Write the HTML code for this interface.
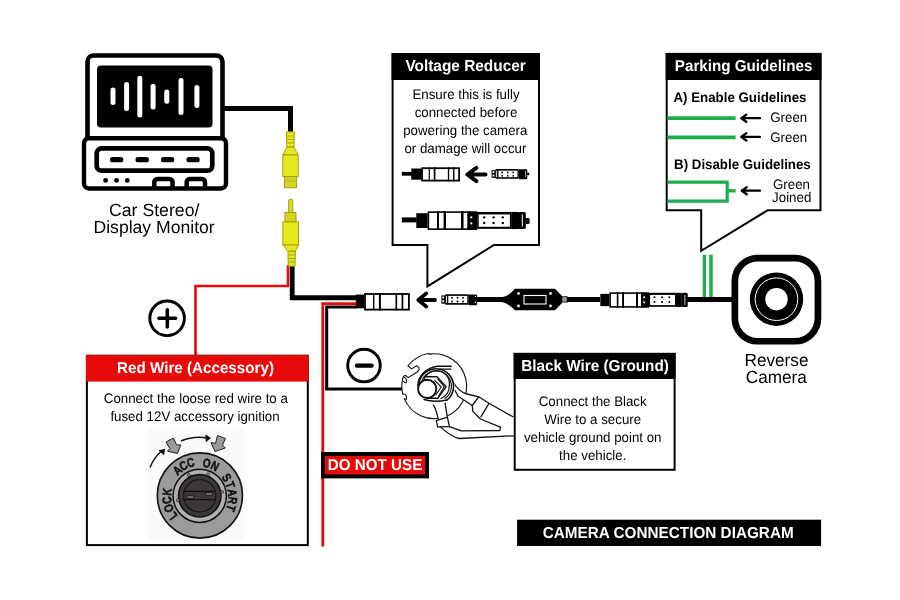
<!DOCTYPE html>
<html><head><meta charset="utf-8">
<style>
html,body{margin:0;padding:0;background:#fff;width:900px;height:600px;overflow:hidden}
svg{display:block;will-change:transform}
text{font-family:"Liberation Sans",sans-serif;text-rendering:geometricPrecision}
.b{font-weight:bold}
</style></head><body>
<svg width="900" height="600" viewBox="0 0 900 600">
<rect width="900" height="600" fill="#fff"/>
<!-- ===== wires ===== -->
<g fill="none" stroke-linejoin="miter">
  <path d="M224,108.5 H290.5 V133" stroke="#000" stroke-width="5"/>
  <path d="M195.5,356 V286 H288 V265" stroke="#e80a0a" stroke-width="2.6"/>
  <path d="M292.2,265 V297.75 H357" stroke="#000" stroke-width="4.8"/>
  <path d="M322.8,546.4 V303.7 H357" stroke="#e80a0a" stroke-width="2.8"/>
  <path d="M326.7,389 V306.9 H357" stroke="#000" stroke-width="3"/>
  <path d="M325.2,389.1 H402" stroke="#000" stroke-width="3"/>
  <path d="M476,299.5 H600" stroke="#000" stroke-width="5"/>
  <path d="M687,299.5 H733" stroke="#000" stroke-width="5"/>
  <path d="M704.35,254.7 V297" stroke="#1caf4b" stroke-width="3.3"/>
  <path d="M711,254.7 V297" stroke="#1caf4b" stroke-width="3.5"/>
</g>
<!-- ===== Car stereo icon ===== -->
<g id="stereo" fill="none" stroke="#000">
  <path d="M87.5,138 V61.5 a6,6 0 0 1 6,-6 H216.5 a6,6 0 0 1 6,6 V138" stroke-width="4.6"/>
  <rect x="97" y="65.5" width="115.5" height="62" rx="4" fill="#000" stroke="none"/>
  <g stroke="#fff" stroke-width="5" stroke-linecap="round">
    <line x1="113" y1="90" x2="113" y2="102.5"/>
    <line x1="126.6" y1="84.5" x2="126.6" y2="108.5"/>
    <line x1="139.8" y1="78.3" x2="139.8" y2="115"/>
    <line x1="153.1" y1="86.3" x2="153.1" y2="107"/>
    <line x1="166.75" y1="92" x2="166.75" y2="101.2"/>
    <line x1="181" y1="80.5" x2="181" y2="112.5"/>
    <line x1="196.9" y1="87.5" x2="196.9" y2="105.5"/>
  </g>
  <rect x="84" y="138.2" width="142" height="50.3" rx="5" stroke-width="4.4"/>
  <rect x="96.7" y="148.4" width="115.6" height="22.3" rx="5" stroke-width="4.7"/>
  <g stroke-width="5.2" stroke-linecap="round">
    <line x1="112.6" y1="159.7" x2="120.7" y2="159.7"/>
    <line x1="138.1" y1="159.7" x2="146.4" y2="159.7"/>
    <line x1="163.6" y1="159.7" x2="171.6" y2="159.7"/>
    <line x1="189" y1="159.7" x2="197.1" y2="159.7"/>
  </g>
  <g fill="#000" stroke="none">
    <circle cx="105.6" cy="180.4" r="2.4"/>
    <circle cx="116.5" cy="180.4" r="2.4"/>
    <circle cx="127.3" cy="180.4" r="2.4"/>
  </g>
  <path d="M154.3,188 V182 a3,3 0 0 1 3,-3 H169.5 a3,3 0 0 1 3,3 V188" stroke-width="4.5"/>
  <path d="M186.7,188 V182 a3,3 0 0 1 3,-3 H202 a3,3 0 0 1 3,3 V188" stroke-width="4.5"/>
</g>
<text x="154.2" y="215.7" font-size="17.7" text-anchor="middle">Car Stereo/</text>
<text x="154.1" y="232.8" font-size="17.6" text-anchor="middle">Display Monitor</text>
<!-- ===== RCA connectors ===== -->
<g stroke="#9a9a10" stroke-width="0.9" fill="#e5e81a">
  <!-- female top -->
  <path d="M286.4,131.8 H294.4 L293.9,147.1 H286.9 Z"/>
  <path d="M286.9,147.1 L282.8,155 H298.2 L293.9,147.1 Z"/>
  <rect x="282.8" y="155" width="15.4" height="21.6"/>
  <rect x="284.4" y="176.6" width="12.2" height="11.2" fill="#d2d520"/>
  <!-- male bottom -->
  <rect x="288.6" y="199.3" width="4.2" height="14" rx="1.6" fill="#d8db20"/>
  <rect x="284.9" y="212.5" width="11.1" height="9.4" fill="#d2d520"/>
  <rect x="282.9" y="221.9" width="15.6" height="23.1"/>
  <path d="M282.9,245 L287.9,251.3 H295.4 L298.5,245 Z"/>
  <path d="M287.9,251.3 H295.4 L295,266.2 H288.3 Z"/>
</g>
<g stroke="#a8aa10" stroke-width="1">
  <line x1="286.5" y1="136" x2="294.3" y2="136"/>
  <line x1="286.6" y1="139.5" x2="294.2" y2="139.5"/>
  <line x1="286.7" y1="143" x2="294.1" y2="143"/>
  <line x1="288" y1="255" x2="295.3" y2="255"/>
  <line x1="288.1" y1="258.5" x2="295.2" y2="258.5"/>
  <line x1="288.2" y1="262" x2="295.1" y2="262"/>
  <line x1="284.6" y1="181" x2="296.4" y2="181" stroke-width="0.6"/>
</g>
<!-- ===== Camera ===== -->
<rect x="734.85" y="258.05" width="83.1" height="83.2" rx="23" fill="none" stroke="#000" stroke-width="6.7"/>
<circle cx="776.5" cy="299.2" r="26.7" fill="#000"/>
<circle cx="776.5" cy="299.2" r="21.3" fill="none" stroke="#fff" stroke-width="1"/>
<circle cx="776.5" cy="299.2" r="11.2" fill="#fff"/>
<text transform="translate(776.5,365.8) scale(1,1.02)" font-size="17.2" text-anchor="middle">Reverse</text>
<text transform="translate(776.3,382.5) scale(1,1.02)" font-size="17.2" text-anchor="middle">Camera</text>
<!-- ===== Voltage reducer box ===== -->
<path d="M392.6,54 H539 V245 H494 L427.4,286.4 V245 H392.6 Z" fill="#fff" stroke="#000" stroke-width="2"/>
<rect x="391.6" y="53" width="148.4" height="27" fill="#000"/>
<text transform="translate(465.6,70.7) scale(1,1.04)" font-size="15.4" class="b" fill="#fff" text-anchor="middle">Voltage Reducer</text>
<g font-size="13.3" text-anchor="middle">
<text transform="translate(466,99) scale(1,1.04)">Ensure this is fully</text>
<text transform="translate(466,116.8) scale(1,1.04)">connected before</text>
<text transform="translate(465.3,134.7) scale(1,1.04)">powering the camera</text>
<text transform="translate(465.4,152.9) scale(1,1.04)">or damage will occur</text>
</g>
<!-- ===== Parking guidelines box ===== -->
<path d="M666.7,53.9 H820.5 V210.2 H767.8 L701.2,250.8 V210.2 H666.7 Z" fill="#fff" stroke="#000" stroke-width="2"/>
<rect x="665.7" y="52.9" width="155.8" height="27.1" fill="#000"/>
<text transform="translate(743.6,70.5) scale(1,1.04)" font-size="15.2" class="b" fill="#fff" text-anchor="middle">Parking Guidelines</text>
<text transform="translate(740,101.7) scale(1,1.04)" font-size="13.3" class="b" text-anchor="middle">A) Enable Guidelines</text>
<text transform="translate(742.4,169) scale(1,1.04)" font-size="13.3" class="b" text-anchor="middle">B) Disable Guidelines</text>
<g fill="none" stroke="#1caf4b" stroke-width="3.8">
  <path d="M667.5,118.2 H735.6"/>
  <path d="M667.5,137.4 H735.6"/>
  <path d="M667.5,182.1 H727.2 V201.2 H667.5" stroke-width="3.2"/>
  <path d="M727.2,190.8 H735.7" stroke-width="3.4"/>
</g>
<g font-size="13.3" text-anchor="middle">
<text transform="translate(788.7,122) scale(1,1.04)">Green</text>
<text transform="translate(788.7,141.5) scale(1,1.04)">Green</text>
<text transform="translate(791.5,188.7) scale(1,1.04)">Green</text>
<text transform="translate(791.7,201.5) scale(1,1.04)">Joined</text>
</g>
<g fill="none" stroke="#000" stroke-width="2.3" stroke-linecap="round" stroke-linejoin="round">
  <path d="M760,118.2 H742 M746.3,114.6 L741.3,118.2 L746.3,121.8"/>
  <path d="M760,136.9 H742 M746.3,133.3 L741.3,136.9 L746.3,140.5"/>
  <path d="M760,190.7 H742.5 M746.8,187.1 L741.8,190.7 L746.8,194.3"/>
</g>
<!-- ===== Red wire box ===== -->
<rect x="86.9" y="355.7" width="220.9" height="189.4" fill="#fff" stroke="#000" stroke-width="2"/>
<rect x="85.9" y="355.1" width="222.7" height="26.5" fill="#e80a0a"/>
<text transform="translate(195.5,372.8) scale(1,1.04)" font-size="15.2" class="b" fill="#fff" text-anchor="middle">Red Wire (Accessory)</text>
<g font-size="13.3" text-anchor="middle">
<text transform="translate(195.8,402.7) scale(1,1.04)">Connect the loose red wire to a</text>
<text transform="translate(195.0,420.8) scale(1,1.04)">fused 12V accessory ignition</text>
</g>
<!-- ===== Black wire box ===== -->
<rect x="514.7" y="353.9" width="159.9" height="115.9" fill="#fff" stroke="#000" stroke-width="2"/>
<rect x="513.7" y="352.9" width="161.9" height="26.1" fill="#000"/>
<text transform="translate(595,370.9) scale(1,1.04)" font-size="15.3" class="b" fill="#fff" text-anchor="middle">Black Wire (Ground)</text>
<g font-size="13.3" text-anchor="middle">
<text transform="translate(592.7,405.75) scale(1,1.04)">Connect the Black</text>
<text transform="translate(592.7,423.75) scale(1,1.04)">Wire to a secure</text>
<text transform="translate(592.7,441.75) scale(1,1.04)">vehicle ground point on</text>
<text transform="translate(592.7,459.9) scale(1,1.04)">the vehicle.</text>
</g>
<!-- ===== ignition ===== -->
<g id="ignition">
<rect x="148" y="429" width="96" height="112" fill="#fafafa"/>
<circle cx="199.9" cy="495.5" r="42.6" fill="#9b9b9b" stroke="#111" stroke-width="1.6"/>
<circle cx="199.7" cy="495.8" r="26.6" fill="#b0b0b0" stroke="#111" stroke-width="1.5"/>
<circle cx="199.7" cy="495.8" r="21.2" fill="#3d3838" stroke="#111" stroke-width="1.6"/>
<circle cx="199.7" cy="495.8" r="16.2" fill="none" stroke="#1a1616" stroke-width="1.3"/>
<path d="M183.6,491.4 H215.6 M183.6,499.6 H215.6" stroke="#111" stroke-width="1.3"/>
<rect x="187.1" y="495.3" width="6.4" height="3.2" fill="#6e6868" stroke="#111" stroke-width="0.7"/>
<rect x="205.8" y="492.4" width="6.6" height="3.2" fill="#6e6868" stroke="#111" stroke-width="0.7"/>
<circle cx="188.9" cy="475.1" r="1.4" fill="#b0b0b0" stroke="#111" stroke-width="0.8"/>
<circle cx="208.1" cy="474.5" r="1.4" fill="#b0b0b0" stroke="#111" stroke-width="0.8"/>
<circle cx="222.1" cy="492" r="1.4" fill="#b0b0b0" stroke="#111" stroke-width="0.8"/>
<circle cx="177.8" cy="500.2" r="1.4" fill="#b0b0b0" stroke="#111" stroke-width="0.8"/>
<text transform="translate(177.24,470.41) rotate(318.5) scale(0.8,1)" y="4.4" font-size="12.6" font-weight="bold" fill="#111" stroke="#111" stroke-width="0.5" text-anchor="middle">A</text>
<text transform="translate(183.33,465.66) rotate(331.5) scale(0.8,1)" y="4.4" font-size="12.6" font-weight="bold" fill="#111" stroke="#111" stroke-width="0.5" text-anchor="middle">C</text>
<text transform="translate(190.48,462.55) rotate(344.5) scale(0.8,1)" y="4.4" font-size="12.6" font-weight="bold" fill="#111" stroke="#111" stroke-width="0.5" text-anchor="middle">C</text>
<text transform="translate(206.84,463.07) rotate(372.3) scale(0.8,1)" y="4.4" font-size="12.6" font-weight="bold" fill="#111" stroke="#111" stroke-width="0.5" text-anchor="middle">O</text>
<text transform="translate(215.01,466.00) rotate(387.2) scale(0.8,1)" y="4.4" font-size="12.6" font-weight="bold" fill="#111" stroke="#111" stroke-width="0.5" text-anchor="middle">N</text>
<text transform="translate(226.68,477.67) rotate(416.1) scale(0.8,1)" y="4.4" font-size="12.6" font-weight="bold" fill="#111" stroke="#111" stroke-width="0.5" text-anchor="middle">S</text>
<text transform="translate(230.28,484.79) rotate(430.2) scale(0.8,1)" y="4.4" font-size="12.6" font-weight="bold" fill="#111" stroke="#111" stroke-width="0.5" text-anchor="middle">T</text>
<text transform="translate(232.35,492.66) rotate(444.5) scale(0.8,1)" y="4.4" font-size="12.6" font-weight="bold" fill="#111" stroke="#111" stroke-width="0.5" text-anchor="middle">A</text>
<text transform="translate(232.58,500.42) rotate(98.0) scale(0.8,1)" y="4.4" font-size="12.6" font-weight="bold" fill="#111" stroke="#111" stroke-width="0.5" text-anchor="middle">R</text>
<text transform="translate(231.07,507.84) rotate(111.0) scale(0.8,1)" y="4.4" font-size="12.6" font-weight="bold" fill="#111" stroke="#111" stroke-width="0.5" text-anchor="middle">T</text>
<text transform="translate(172.53,515.91) rotate(233.5) scale(0.8,1)" y="4.4" font-size="12.6" font-weight="bold" fill="#111" stroke="#111" stroke-width="0.5" text-anchor="middle">L</text>
<text transform="translate(168.62,508.30) rotate(248.1) scale(0.8,1)" y="4.4" font-size="12.6" font-weight="bold" fill="#111" stroke="#111" stroke-width="0.5" text-anchor="middle">O</text>
<text transform="translate(166.79,500.19) rotate(262.4) scale(0.8,1)" y="4.4" font-size="12.6" font-weight="bold" fill="#111" stroke="#111" stroke-width="0.5" text-anchor="middle">C</text>
<text transform="translate(167.12,491.97) rotate(276.7) scale(0.8,1)" y="4.4" font-size="12.6" font-weight="bold" fill="#111" stroke="#111" stroke-width="0.5" text-anchor="middle">K</text>
<path d="M166,442 L173.5,438 L176.5,444.8 L180.8,445 L177.5,453.5 L167.5,451.2 L169.8,448.5 Z" fill="#999" stroke="#222" stroke-width="1" stroke-linejoin="round"/>
<path d="M217.5,435.5 L225.5,438.5 L222.5,445 L225.3,448 L215,451.5 L211,442.5 L215.5,443.3 Z" fill="#999" stroke="#222" stroke-width="1" stroke-linejoin="round"/>
<path d="M150,467.5 Q154,457.5 161,451.5" fill="none" stroke="#111" stroke-width="1.5"/>
<path d="M165.2,448.8 L158.3,450.3 L164,455.2 Z" fill="#111"/>
<path d="M181,441 Q193,436 206,437.8" fill="none" stroke="#111" stroke-width="1.5"/>
<path d="M211,438 L205.3,434.3 L205.8,442.2 Z" fill="#111"/>
</g>
<!-- ===== ground ===== -->
<g id="ground" fill="none" stroke="#111" stroke-width="1.1" stroke-linejoin="round" stroke-linecap="round">
  <!-- washer ring with teeth -->
  <path d="M429.69,354.12 A32.4,32.4 0 1 1 404.38,398.86"/>
  <path d="M402.76,394.04 A32.4,32.4 0 0 1 402.76,378.36"/>
  <path d="M408.04,365.76 A33.2,33.2 0 0 1 428.13,353.46 L429.69,354.12"/>
  <path d="M408.04,365.76 L411.6,368.9 L416.6,365.7 L418.8,367.2 L419.2,369.7 L416.8,372.3 L408.1,377.6 L405.2,375.2 Q403,376.5 402.76,378.36"/>
  <path d="M404.6,377.6 Q407,378.6 406.3,382.6 Q404.6,383.2 403.5,381.2"/>
  <path d="M402.76,394.04 Q406.6,393.6 406.6,398.5 Q405.8,401.2 404.38,398.86"/>
  <path d="M452.5,381 C457,389 461,392.5 467,394 L478.7,396.8 L489,403.3 L512.9,416.8 L513.4,435.8 L459.2,438.5 C452,437 446,432 440.8,427.1 L449.5,426.6 L461.4,430.9 L499.9,430.5 L500.4,427.1 L480.4,419 L472.8,411.4 L472.2,405.5 L458.2,396.2 L455,390.5 Z" fill="#fff" stroke="none"/>
  <path d="M430,400.6 C434,404 436,408 438.2,418.8 L436.3,420.6 L437.6,426.8 L449.5,426.6 L447.3,416.8 L444.8,401.5 Z" fill="#fff" stroke="none"/>
  <!-- crimp upper arm -->
  <path d="M452.5,381 C457,389 461,392.5 467,394 L478.7,396.8 L489,403.3 L512.9,416.8" stroke-width="1.3"/>
  <path d="M455,390.5 L458.2,396.2 L472.2,405.5 L472.8,411.4 L480.4,419 L500.4,427.1 L499.9,430.5 L461.4,430.9 L449.5,426.6" stroke-width="1.3"/>
  <path d="M478.7,396.8 L472.2,405.5 M489,403.3 L480.9,416.8" stroke-width="1.3"/>
  <!-- lower arm -->
  <path d="M430,400.6 C434,404 436,408 438.2,418.8" stroke-width="1.3"/>
  <path d="M444.8,401.5 L447.3,416.8 L449.5,426.6" stroke-width="1.3"/>
  <path d="M436.3,420.6 L446.8,417.4 M437.6,426.8 L449.5,426.6 M436.3,420.6 L437.6,426.8" stroke-width="1.3"/>
  <path d="M440.8,427.1 C446,432 452,437 459.2,438.5 L513.4,435.8" stroke-width="1.3"/>
  <!-- bolt assembly -->
  <circle cx="436.2" cy="386.3" r="18.6" fill="#fff" stroke="none"/>
  <path d="M417.8,385.8 C418,376 426,368 437,366.25 H451.2" stroke-width="1.5"/>
  <path d="M439.5,369.2 H450.8" stroke-width="1.3"/>
  <path d="M419.5,392 A17.5,17.5 0 1 1 447,400" stroke-width="1.6"/>
  <path d="M421.5,390 A15.2,15.2 0 1 1 445,398.5" stroke-width="1.1"/>
  <path d="M424,380 A13,13 0 0 1 449.2,386.3 A13,13 0 0 1 441,398.5" stroke-width="1.3"/>
  <path d="M425.3,376.7 L437,376.7 L446.2,386.7 L437.8,398.3 L427,398.3" fill="#fff" stroke-width="1.4"/>
  <path d="M437.8,379 L444.3,386.8 L438.6,396 M434.8,380.3 L441.2,387 L435.8,395" stroke-width="1.1"/>
  <path d="M424,399.5 C430,401.5 440,401.5 447,400" stroke-width="1.4"/>
  <circle cx="427.2" cy="388.9" r="9.1" fill="#fff" stroke-width="1.9"/>
</g>
<!-- ===== DO NOT USE ===== -->
<rect x="323" y="454" width="104" height="22.4" fill="#e80a0a" stroke="#000" stroke-width="4"/>
<text transform="translate(375,470) scale(1,1.04)" font-size="15.2" class="b" fill="#fff" text-anchor="middle">DO NOT USE</text>
<!-- ===== Title ===== -->
<rect x="517.1" y="519.7" width="304" height="26.3" fill="#000"/>
<text transform="translate(668.2,538) scale(1,1.04)" font-size="15.3" class="b" fill="#fff" text-anchor="middle">CAMERA CONNECTION DIAGRAM</text>
<!-- ===== plus / minus ===== -->
<circle cx="167.1" cy="318.35" r="17.3" fill="none" stroke="#000" stroke-width="2.9"/>
<path d="M158.9,318.3 H175.6 M167.3,309.7 V327" stroke="#000" stroke-width="3.5" stroke-linecap="round"/>
<circle cx="364" cy="365.6" r="16.3" fill="none" stroke="#000" stroke-width="2.9"/>
<path d="M357,365.6 H371.6" stroke="#000" stroke-width="4.4" stroke-linecap="round"/>
<g id="conn">
<rect x="355.80" y="294.60" width="8.30" height="13.70" fill="#000" />
<rect x="364.10" y="293.10" width="45.70" height="17.40" fill="#000" />
<rect x="365.90" y="294.90" width="42.10" height="13.80" fill="#fff" />
<rect x="373.00" y="293.10" width="1.40" height="17.40" fill="#000" />
<rect x="378.90" y="293.10" width="2.00" height="17.40" fill="#000" />
<rect x="395.50" y="293.10" width="1.60" height="17.40" fill="#000" />
<rect x="401.60" y="293.10" width="1.70" height="17.40" fill="#000" />
<path d="M435,300 H418.8 M426.3,293.4 L418.3,300 L426.3,306.6" fill="none" stroke="#000" stroke-width="3.8" stroke-linecap="round" stroke-linejoin="round"/>
<rect x="441.40" y="295.40" width="3.90" height="8.30" fill="#000" />
<rect x="442.30" y="296.50" width="1.80" height="2.00" fill="#fff" />
<rect x="442.30" y="300.20" width="1.80" height="2.00" fill="#fff" />
<rect x="445.10" y="294.20" width="23.40" height="10.60" fill="#000" rx="1"/>
<rect x="446.00" y="295.90" width="0.90" height="7.10" fill="#fff" />
<rect x="448.30" y="295.90" width="19.00" height="7.10" fill="#fff" />
<circle cx="452.00" cy="297.80" r="0.95" fill="#000"/>
<circle cx="452.00" cy="301.50" r="0.95" fill="#000"/>
<circle cx="457.50" cy="297.80" r="0.95" fill="#000"/>
<circle cx="457.50" cy="301.50" r="0.95" fill="#000"/>
<circle cx="463.00" cy="297.80" r="0.95" fill="#000"/>
<circle cx="463.00" cy="301.50" r="0.95" fill="#000"/>
<rect x="468.30" y="294.40" width="8.80" height="10.80" fill="#000" rx="1.2"/>
<circle cx="475.40" cy="296.50" r="0.75" fill="#fff"/>
<circle cx="475.40" cy="302.60" r="0.75" fill="#fff"/>
<path d="M500,297.2 C506,297 509,295 515,288.7 H555 L562,296 V303 L555,310.2 H515 C508,304 505,302 498,301.8 Z" fill="#000"/>
<rect x="524" y="295.5" width="22" height="8.5" fill="none" stroke="#fff" stroke-width="1.1"/>
<circle cx="518.5" cy="293.5" r="1.45" fill="#e8e8e8"/>
<circle cx="550.5" cy="293.5" r="1.45" fill="#e8e8e8"/>
<circle cx="518.5" cy="306" r="1.45" fill="#e8e8e8"/>
<circle cx="550.5" cy="306" r="1.45" fill="#e8e8e8"/>
<rect x="561.50" y="296.30" width="6.00" height="6.20" fill="#000" />
<rect x="562.30" y="297.10" width="4.40" height="4.60" fill="#9a9a9a" />
<rect x="600.30" y="293.90" width="9.00" height="12.20" fill="#000" />
<rect x="609.30" y="292.30" width="39.60" height="15.40" fill="#000" />
<rect x="610.90" y="293.90" width="36.40" height="12.20" fill="#fff" />
<rect x="616.80" y="292.30" width="1.60" height="15.40" fill="#000" />
<rect x="622.10" y="292.30" width="1.90" height="15.40" fill="#000" />
<rect x="636.00" y="292.30" width="2.00" height="15.40" fill="#000" />
<rect x="641.00" y="292.30" width="2.20" height="15.40" fill="#000" />
<rect x="643.20" y="292.80" width="5.80" height="14.40" fill="#000" />
<circle cx="644.20" cy="297.30" r="0.95" fill="#fff"/>
<circle cx="644.20" cy="302.30" r="0.95" fill="#fff"/>
<rect x="648.90" y="292.80" width="27.10" height="14.00" fill="#000" />
<rect x="650.10" y="294.90" width="24.90" height="10.20" fill="#fff" />
<circle cx="654.50" cy="297.30" r="1.00" fill="#000"/>
<circle cx="654.50" cy="302.00" r="1.00" fill="#000"/>
<circle cx="662.00" cy="297.30" r="1.00" fill="#000"/>
<circle cx="662.00" cy="302.00" r="1.00" fill="#000"/>
<circle cx="669.30" cy="297.30" r="1.00" fill="#000"/>
<circle cx="669.30" cy="302.00" r="1.00" fill="#000"/>
<rect x="676.00" y="292.80" width="5.50" height="14.20" fill="#000" />
<rect x="681.30" y="292.80" width="6.40" height="14.20" fill="#000" rx="1.5"/>
<rect x="684.50" y="294.80" width="0.80" height="10.20" fill="#fff" />
<rect x="401.80" y="171.90" width="11.50" height="3.80" fill="#000" />
<rect x="411.26" y="168.52" width="10.40" height="11.17" fill="#000" />
<rect x="421.16" y="167.30" width="38.84" height="14.18" fill="#000" />
<rect x="422.96" y="169.10" width="35.24" height="10.58" fill="#fff" />
<rect x="428.72" y="167.30" width="1.19" height="14.18" fill="#000" />
<rect x="433.74" y="167.30" width="1.70" height="14.18" fill="#000" />
<rect x="447.85" y="167.30" width="1.36" height="14.18" fill="#000" />
<rect x="453.03" y="167.30" width="1.44" height="14.18" fill="#000" />
<path d="M485.5,174.5 H467.8 M476.4,167.9 L467.3,174.5 L476.4,181.1" fill="none" stroke="#000" stroke-width="4" stroke-linecap="round" stroke-linejoin="round"/>
<rect x="491.60" y="170.20" width="3.90" height="7.64" fill="#000" />
<rect x="492.50" y="171.22" width="1.80" height="1.84" fill="#fff" />
<rect x="492.50" y="174.62" width="1.80" height="1.84" fill="#fff" />
<rect x="495.30" y="169.10" width="23.40" height="9.75" fill="#000" rx="1"/>
<rect x="496.20" y="170.66" width="0.90" height="6.53" fill="#fff" />
<rect x="498.50" y="170.66" width="19.00" height="6.53" fill="#fff" />
<circle cx="502.20" cy="172.41" r="0.87" fill="#000"/>
<circle cx="502.20" cy="175.82" r="0.87" fill="#000"/>
<circle cx="507.70" cy="172.41" r="0.87" fill="#000"/>
<circle cx="507.70" cy="175.82" r="0.87" fill="#000"/>
<circle cx="513.20" cy="172.41" r="0.87" fill="#000"/>
<circle cx="513.20" cy="175.82" r="0.87" fill="#000"/>
<rect x="518.50" y="169.28" width="8.80" height="9.94" fill="#000" rx="1.2"/>
<rect x="525.40" y="170.94" width="0.70" height="6.26" fill="#fff" />
<rect x="527.10" y="172.41" width="2.20" height="2.76" fill="#000" rx="1"/>
<rect x="401.80" y="217.40" width="14.80" height="5.00" fill="#000" />
<rect x="416.30" y="213.24" width="11.28" height="14.76" fill="#000" />
<rect x="427.58" y="211.30" width="49.62" height="18.63" fill="#000" />
<rect x="429.18" y="212.90" width="46.42" height="15.43" fill="#fff" />
<rect x="436.97" y="211.30" width="2.00" height="18.63" fill="#000" />
<rect x="443.62" y="211.30" width="2.38" height="18.63" fill="#000" />
<rect x="461.03" y="211.30" width="2.51" height="18.63" fill="#000" />
<rect x="467.30" y="211.30" width="2.76" height="18.63" fill="#000" />
<rect x="470.05" y="211.91" width="7.27" height="17.42" fill="#000" />
<circle cx="471.31" cy="217.35" r="1.15" fill="#fff"/>
<circle cx="471.31" cy="223.40" r="1.15" fill="#fff"/>
<rect x="477.20" y="211.91" width="33.96" height="16.94" fill="#000" />
<rect x="478.70" y="214.45" width="31.20" height="12.34" fill="#fff" />
<circle cx="484.21" cy="217.35" r="1.21" fill="#000"/>
<circle cx="484.21" cy="223.04" r="1.21" fill="#000"/>
<circle cx="493.61" cy="217.35" r="1.21" fill="#000"/>
<circle cx="493.61" cy="223.04" r="1.21" fill="#000"/>
<circle cx="502.76" cy="217.35" r="1.21" fill="#000"/>
<circle cx="502.76" cy="223.04" r="1.21" fill="#000"/>
<rect x="511.15" y="211.91" width="6.89" height="17.18" fill="#000" />
<rect x="517.79" y="211.91" width="8.02" height="17.18" fill="#000" rx="1.5"/>
<rect x="521.80" y="214.33" width="1.00" height="12.34" fill="#fff" />
<rect x="525.30" y="218.00" width="4.30" height="6.00" fill="#000" rx="1.2"/>
</g>
</svg>
</body></html>
